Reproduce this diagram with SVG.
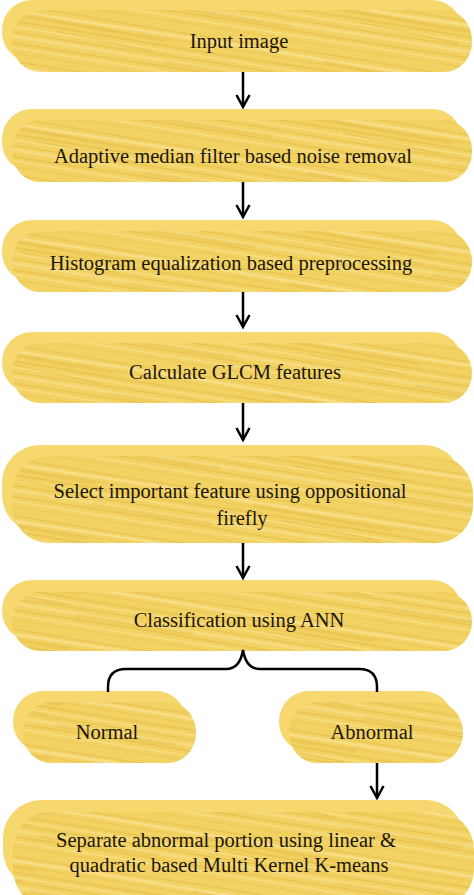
<svg xmlns="http://www.w3.org/2000/svg" width="474" height="895" viewBox="0 0 474 895">
<style>
.back{fill:#f6d86e}
.front{fill:url(#wood)}
.t{font-family:"Liberation Serif","Times New Roman",serif;font-size:20.5px;fill:#1b1608;text-anchor:middle}
.c{stroke:#000;stroke-width:2.5;fill:none}
.dk{stroke:#d6a92e;fill:none}
.lt{stroke:#fbe8a4;fill:none}
</style>
<defs>
<pattern id="wood" patternUnits="userSpaceOnUse" width="300" height="56" patternTransform="rotate(9)">
<rect width="300" height="56" fill="#f2d263"/>
<path class="dk" stroke-width="1" opacity="0.45" d="M0,3 C70,1 160,6 300,3"/>
<path class="lt" stroke-width="2.5" opacity="0.6" d="M0,8 C90,10 190,6 300,8"/>
<path class="dk" stroke-width="0.8" opacity="0.35" d="M0,13 C60,14 210,11 300,13"/>
<path class="dk" stroke-width="2.2" opacity="0.3" d="M0,19 C100,17 180,21 300,19"/>
<path class="lt" stroke-width="1.6" opacity="0.55" d="M0,24 C80,25 200,23 300,24"/>
<path class="dk" stroke-width="1" opacity="0.45" d="M0,29 C110,31 190,27 300,29"/>
<path class="lt" stroke-width="3" opacity="0.45" d="M0,34 C90,33 210,35 300,34"/>
<path class="dk" stroke-width="1.3" opacity="0.4" d="M0,40 C50,42 230,38 300,40"/>
<path class="lt" stroke-width="1.4" opacity="0.55" d="M0,45 C120,44 190,46 300,45"/>
<path class="dk" stroke-width="0.8" opacity="0.35" d="M0,50 C80,51 200,49 300,50"/>
<path class="dk" stroke-width="3.5" opacity="0.2" d="M30,11 C80,12 120,15 170,14"/>
<path class="dk" stroke-width="3.5" opacity="0.2" d="M170,36 C210,35 250,37 290,36"/>
<path class="dk" stroke-width="1.2" opacity="0.4" d="M60,22 C100,23 130,26 160,27"/>
</pattern>
<marker id="ah" markerWidth="16" markerHeight="16" refX="13" refY="7.5" orient="auto" markerUnits="userSpaceOnUse">
<path d="M1,1 L13,7.5 L1,14" fill="none" stroke="#000" stroke-width="2.5"/>
</marker>
</defs>

<g id="n1">
<rect class="back" x="2" y="0" width="460" height="62" rx="30" ry="30"/>
<rect class="front" x="12" y="10" width="460" height="62" rx="28" ry="30"/>
<text class="t" x="239" y="48">Input image</text>
</g>
<g id="n2">
<rect class="back" x="2" y="109" width="460" height="63" rx="30" ry="30"/>
<rect class="front" x="12" y="120" width="460" height="62" rx="28" ry="30"/>
<text class="t" x="233" y="163">Adaptive median filter based noise removal</text>
</g>
<g id="n3">
<rect class="back" x="2" y="220" width="460" height="62" rx="30" ry="30"/>
<rect class="front" x="12" y="231" width="460" height="61" rx="28" ry="30"/>
<text class="t" x="231" y="270">Histogram equalization based preprocessing</text>
</g>
<g id="n4">
<rect class="back" x="2" y="332" width="460" height="61" rx="30" ry="30"/>
<rect class="front" x="12" y="343" width="460" height="60" rx="28" ry="30"/>
<text class="t" x="235" y="379">Calculate GLCM features</text>
</g>
<g id="n5">
<rect class="back" x="2" y="445" width="460" height="88" rx="38" ry="38"/>
<rect class="front" x="12" y="456" width="461" height="87" rx="36" ry="38"/>
<text class="t" x="230" y="498">Select important feature using oppositional</text>
<text class="t" x="242" y="525">firefly</text>
</g>
<g id="n6">
<rect class="back" x="2" y="580" width="460" height="61" rx="30" ry="30"/>
<rect class="front" x="12" y="592" width="460" height="59" rx="28" ry="29"/>
<text class="t" x="239" y="627">Classification using ANN</text>
</g>
<g id="n7">
<rect class="back" x="13" y="691" width="173" height="61" rx="30" ry="30"/>
<rect class="front" x="23" y="702" width="173" height="61" rx="28" ry="30"/>
<text class="t" x="107" y="739">Normal</text>
</g>
<g id="n8">
<rect class="back" x="279" y="691" width="174" height="61" rx="30" ry="30"/>
<rect class="front" x="289" y="702" width="174" height="61" rx="28" ry="30"/>
<text class="t" x="372" y="739">Abnormal</text>
</g>
<g id="n9">
<rect class="back" x="3" y="800" width="461" height="88" rx="38" ry="38"/>
<rect class="front" x="13" y="812" width="461" height="95" rx="36" ry="38"/>
<text class="t" x="226" y="847">Separate abnormal portion using linear &amp;</text>
<text class="t" x="229" y="872">quadratic based Multi Kernel K-means</text>
</g>

<g id="connectors">
<path class="c" marker-end="url(#ah)" d="M243,72 L243,107"/>
<path class="c" marker-end="url(#ah)" d="M243,182 L243,217"/>
<path class="c" marker-end="url(#ah)" d="M243,292 L243,327"/>
<path class="c" marker-end="url(#ah)" d="M243,403 L243,440"/>
<path class="c" marker-end="url(#ah)" d="M243,543 L243,578"/>
<path class="c" marker-end="url(#ah)" d="M377,763 L377,798"/>
<path class="c" d="M108,692 L108,687 Q108,669 126,669 L226,669 Q240,669 243,650 Q246,669 260,669 L359,669 Q377,669 377,687 L377,692"/>
</g>
</svg>
